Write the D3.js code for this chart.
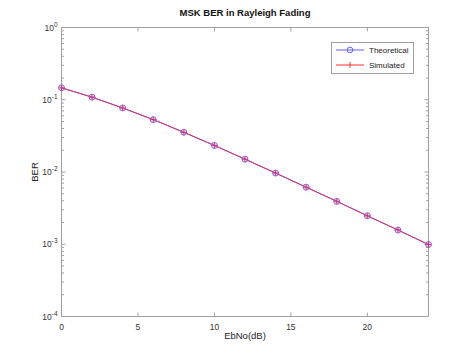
<!DOCTYPE html>
<html><head><meta charset="utf-8">
<script src="https://cdn.jsdelivr.net/npm/d3@7"></script>
<style>body{margin:0;background:#fff}svg{display:block}text{font-family:"Liberation Sans",Arial,sans-serif}</style>
</head><body><svg id="c" width="474" height="355"></svg>
<script>
const ebno = [0,2,4,6,8,10,12,14,16,18,20,22,24];
const berTheory = [0.1464,0.1085,0.0771,0.0530,0.0355,0.02327,0.01507,0.00966,0.00617,0.00392,0.00248,0.00157,0.000992];
const berSim = [0.1462,0.1087,0.0769,0.0532,0.0354,0.02330,0.01502,0.00968,0.00615,0.00394,0.00247,0.00158,0.000990];
const xTicks = [0,5,10,15,20];
const yTicks = [-4,-3,-2,-1,0];

const svg = d3.select("#c");
const L=61.5, R=428.5, T=27.5, B=316.5;
const x = d3.scaleLinear().domain([0,24]).range([L,R]);
const y = d3.scaleLog().domain([1e-4,1]).range([B,T]);
const ax="#a0a0a0";

// box
svg.append("rect").attr("x",L).attr("y",T).attr("width",R-L).attr("height",B-T).attr("fill","none").attr("stroke",ax).attr("stroke-width",1);

// x ticks
xTicks.forEach(v=>{
  svg.append("line").attr("x1",x(v)).attr("x2",x(v)).attr("y1",B).attr("y2",B-4).attr("stroke",ax);
  svg.append("line").attr("x1",x(v)).attr("x2",x(v)).attr("y1",T).attr("y2",T+4).attr("stroke",ax);
  svg.append("text").attr("x",x(v)).attr("y",B+13).attr("text-anchor","middle").attr("font-size",8.5).attr("fill","#333").text(v);
});
// y ticks
yTicks.forEach(e=>{
  const yy=y(Math.pow(10,e));
  svg.append("line").attr("x1",L).attr("x2",L+4).attr("y1",yy).attr("y2",yy).attr("stroke",ax);
  svg.append("line").attr("x1",R).attr("x2",R-4).attr("y1",yy).attr("y2",yy).attr("stroke",ax);
  const t=svg.append("text").attr("x",L-4).attr("y",yy+3).attr("text-anchor","end").attr("font-size",8.5).attr("fill","#333");
  t.append("tspan").text("10");
  t.append("tspan").attr("dy",-4).attr("font-size",6.5).text(e);
  if(e<0){
    for(let m=2;m<=9;m++){
      const ym=y(m*Math.pow(10,e));
      svg.append("line").attr("x1",L).attr("x2",L+2.5).attr("y1",ym).attr("y2",ym).attr("stroke",ax);
      svg.append("line").attr("x1",R).attr("x2",R-2.5).attr("y1",ym).attr("y2",ym).attr("stroke",ax);
    }
  }
});

// lines
const line = d3.line().x((d,i)=>x(ebno[i])).y(d=>y(d));
svg.append("path").datum(berTheory).attr("d",line).attr("fill","none").attr("stroke","#5b5bff").attr("stroke-width",1);
svg.append("path").datum(berSim).attr("d",line).attr("fill","none").attr("stroke","#e0306a").attr("stroke-width",1);
berTheory.forEach((d,i)=>{
  svg.append("circle").attr("cx",x(ebno[i])).attr("cy",y(d)).attr("r",3).attr("fill","rgba(180,140,220,0.35)").attr("stroke","#8a5cc8").attr("stroke-width",0.9);
});
berSim.forEach((d,i)=>{
  const cx=x(ebno[i]), cy=y(d);
  svg.append("line").attr("x1",cx-3).attr("x2",cx+3).attr("y1",cy).attr("y2",cy).attr("stroke","#d0206a").attr("stroke-width",0.8);
  svg.append("line").attr("x1",cx).attr("x2",cx).attr("y1",cy-3).attr("y2",cy+3).attr("stroke","#d0206a").attr("stroke-width",0.8);
});

// title and labels
svg.append("text").attr("x",(L+R)/2).attr("y",16).attr("text-anchor","middle").attr("font-size",9.5).attr("font-weight","bold").attr("fill","#111").text("MSK BER in Rayleigh Fading");
svg.append("text").attr("x",(L+R)/2).attr("y",339).attr("text-anchor","middle").attr("font-size",9.5).attr("fill","#222").text("EbNo(dB)");
svg.append("text").attr("transform","translate(38,"+((T+B)/2)+") rotate(-90)").attr("text-anchor","middle").attr("font-size",9.5).attr("fill","#222").text("BER");

// legend
const lg=svg.append("g");
lg.append("rect").attr("x",331.5).attr("y",42.5).attr("width",82).attr("height",31).attr("fill","#fff").attr("stroke","#888").attr("stroke-width",0.8);
lg.append("line").attr("x1",336).attr("x2",364).attr("y1",50).attr("y2",50).attr("stroke","#6060ff");
lg.append("circle").attr("cx",350).attr("cy",50).attr("r",2.8).attr("fill","none").attr("stroke","#5050ff").attr("stroke-width",0.9);
lg.append("text").attr("x",369).attr("y",53).attr("font-size",8).attr("fill","#222").text("Theoretical");
lg.append("line").attr("x1",336).attr("x2",364).attr("y1",65).attr("y2",65).attr("stroke","#ff3030");
lg.append("line").attr("x1",350).attr("x2",350).attr("y1",62).attr("y2",68).attr("stroke","#ff3030");
lg.append("text").attr("x",369).attr("y",68).attr("font-size",8).attr("fill","#222").text("Simulated");
</script></body></html>
